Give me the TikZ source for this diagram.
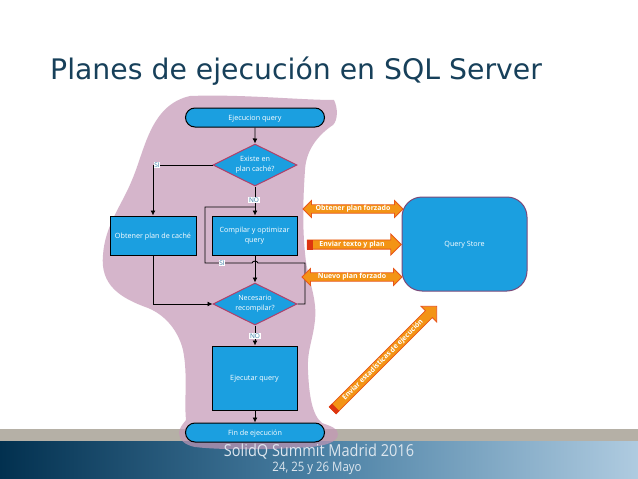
\documentclass[tikz,border=0pt]{standalone}
\usepackage{fontspec}
\setmainfont{Open Sans}
\newfontfamily\titlefont{DejaVu Sans}
\newfontfamily\footfont[FakeStretch=0.88]{Open Sans}
\usetikzlibrary{shapes.geometric,shapes.arrows,shapes.misc,arrows.meta}
\definecolor{boxblue}{HTML}{1B9FE0}
\definecolor{blobpink}{HTML}{C497B6}
\definecolor{diamondedge}{HTML}{B0406A}
\definecolor{storeedge}{HTML}{7A4A7A}
\definecolor{arroworange}{HTML}{F39415}
\definecolor{arrowedge}{HTML}{E8561A}
\definecolor{stripe}{HTML}{DD3510}
\definecolor{titleink}{HTML}{17405A}
\definecolor{bandgrey}{HTML}{B5B0A6}
\definecolor{footdark}{HTML}{02304F}
\definecolor{footmid}{HTML}{4A80A4}
\definecolor{footlight}{HTML}{AFCBE0}
\definecolor{footink}{HTML}{DDE6EE}
\definecolor{tagink}{HTML}{3B7FA8}
\tikzset{
  x=1pt,y=-1pt,
  lbl/.style={text=white,font=\fontsize{7.2}{10}\selectfont,align=center},
  oneline/.style={text height=7pt},
  startend/.style={lbl,oneline,draw=black,line width=1pt,fill=boxblue,rounded rectangle,minimum width=139pt,minimum height=19pt,inner sep=0pt},
  procbox/.style={lbl,draw=black,line width=1pt,fill=boxblue,rectangle,inner sep=0pt},
  decision/.style={lbl,draw=diamondedge,line width=1pt,fill=boxblue,diamond,aspect=2,minimum width=84pt,minimum height=42pt,inner sep=0pt},
  link/.style={draw=black,line width=0.9pt,-{Latex[length=5pt,width=5pt]}},
  plain/.style={draw=black,line width=0.9pt},
  tag/.style={fill=white,text=tagink,font=\fontsize{6.5}{7}\selectfont,inner sep=0.8pt},
  blockbase/.style={draw=arrowedge,line width=0.8pt,fill=arroworange,text=white,font=\fontsize{7}{8}\selectfont\bfseries,inner sep=0pt},
  twoway/.style={blockbase,double arrow,double arrow head extend=4pt,double arrow tip angle=90,minimum height=100pt,minimum width=17pt},
  oneway/.style={blockbase,single arrow,single arrow head extend=5pt,single arrow tip angle=90,minimum height=94pt,minimum width=21pt},
}
\begin{document}
\begin{tikzpicture}
\useasboundingbox (0,0) rectangle (638,479);
\fill[white] (0,0) rectangle (638,479);
% footer
\fill[bandgrey] (0,429) rectangle (638,441);
\shade[left color=footdark,right color=footlight,middle color=footmid] (0,441) rectangle (638,478);
% blob
\fill[blobpink,fill opacity=0.7] (190,96) .. controls (240,94) and (300,100) .. (334,100)
  .. controls (338,108) and (338,120) .. (333,125)
  .. controls (318,135) and (306,150) .. (305,170)
  .. controls (303,200) and (302,230) .. (306,262)
  .. controls (310,285) and (317,300) .. (315,320)
  .. controls (313,340) and (307,350) .. (308,370)
  .. controls (309,395) and (312,415) .. (322,423)
  .. controls (330,426) and (338,428) .. (338,434)
  .. controls (338,442) and (325,446) .. (310,447)
  .. controls (270,450) and (220,450) .. (195,447)
  .. controls (185,445) and (179,440) .. (179,433)
  .. controls (179,428) and (183,424) .. (186,420)
  .. controls (184,400) and (188,375) .. (183,350)
  .. controls (178,330) and (165,315) .. (148,308)
  .. controls (120,298) and (100,285) .. (103,255)
  .. controls (105,225) and (122,205) .. (132,180)
  .. controls (145,150) and (150,105) .. (190,96) -- cycle;
% title
\node[anchor=west,text=titleink,font=\titlefont\fontsize{28.3}{32}\selectfont,inner sep=0pt] (title) at (50,71.5) {Planes de ejecución en SQL Server};
% flow nodes
\node[startend] (start) at (255,117.5) {Ejecucion query};
\node[decision] (d1) at (255,165) {Existe en\\plan caché?};
\node[procbox,oneline,minimum width=86pt,minimum height=39pt] (cache) at (153,235.5) {Obtener plan de caché};
\node[procbox,minimum width=85pt,minimum height=39pt] (compile) at (254.5,235.5) {Compilar y optimizar\\query};
\node[decision] (d2) at (255,304) {Necesario\\recompilar?};
\node[procbox,oneline,minimum width=85pt,minimum height=64pt] (exec) at (254.5,378) {Ejecutar query};
\node[startend] (end) at (255,432.5) {Fin de ejecución};
% helper coordinates
\coordinate (ltop) at (205,207);
\coordinate (lbot) at (205,263);
\coordinate (rbot) at (305,263);
\coordinate (rmid) at (305,304);
\coordinate (cachec) at (153,165);
\coordinate (cacheb) at (153,304);
\coordinate (ctop) at (255,207);
\coordinate (jumpa) at (258,263);
\coordinate (jumpb) at (252,263);
% connectors
\draw[link] (start) -- (d1);
\draw[plain] (d1.west) -- (cachec);
\draw[link] (cachec) -- (cache.north);
\draw[link] (d1.south) -- (compile.north -| d1.south);
\draw[plain] (cache.south) -- (cacheb);
\draw[link] (cacheb) -- (d2.west);
\draw[link] (compile.south -| d2.north) -- (d2.north);
\draw[plain] (d2.east) -- (rmid) -- (rbot) -- (jumpa) .. controls (257,260.5) and (253,260.5) .. (jumpb) -- (lbot) -- (ltop) -- (ctop);
\draw[link] (d2.south) -- (exec.north -| d2.south);
\draw[link] (exec.south -| end.north) -- (end.north);
% tags
\node[tag] (tag1) at (157,165) {SI};
\node[tag] (tag2) at (254,200) {NO};
\node[tag] (tag3) at (222,263) {SI};
\node[tag] (tag4) at (255,336) {NO};
% query store
\node[lbl,oneline,draw=storeedge,line width=1pt,fill=boxblue,rectangle,rounded corners=20pt,minimum width=125pt,minimum height=94pt,inner sep=0pt] (store) at (464.5,244) {Query Store};
% block arrows
\node[twoway] (a1) at (353,209) {Obtener plan forzado};
\node[oneway] (a2) at (352,244.5) {Enviar texto y plan};
\fill[stripe] (a2.before tail) -- (a2.after tail) -- ([xshift=6pt]a2.after tail) -- ([xshift=6pt]a2.before tail) -- cycle;
\node[twoway] (a3) at (352,277) {Nuevo plan forzado};
\node[oneway,rotate=45,minimum height=147pt,minimum width=22pt] (a4) at (383,360) {Enviar estadísticas de ejecución};
\fill[stripe] (a4.before tail) -- (a4.after tail) -- ([shift={(3.2,-3.2)}]a4.after tail) -- ([shift={(3.2,-3.2)}]a4.before tail) -- cycle;
% footer text
\node[text=footink,font=\footfont\fontsize{16.5}{18}\selectfont,inner sep=0pt] (foot1) at (319,452) {SolidQ Summit Madrid 2016};
\node[text=footink,font=\footfont\fontsize{13}{14}\selectfont,inner sep=0pt] (foot2) at (317,468) {24, 25 y 26 Mayo};
\end{tikzpicture}
\end{document}
